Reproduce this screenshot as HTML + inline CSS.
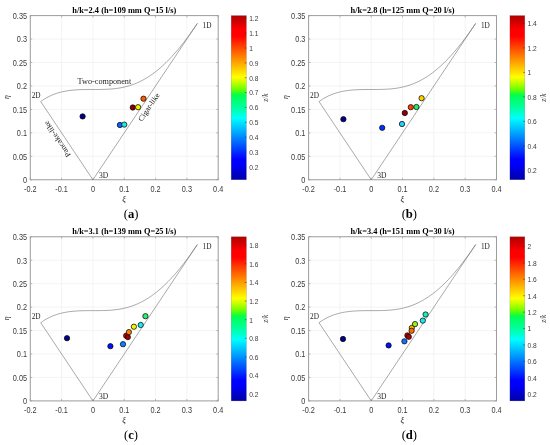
<!DOCTYPE html>
<html lang="en"><head><meta charset="utf-8"><title>Lumley triangle invariant maps</title>
<style>html,body{margin:0;padding:0;background:#fff}svg{display:block}.t{font-family:"Liberation Sans", Arial, sans-serif;fill:#3a3a3a;font-size:8.4px}.s{font-family:"Liberation Serif", "Times New Roman", serif}</style></head><body>
<svg width="550" height="445" viewBox="0 0 550 445">
<defs><linearGradient id="jet" x1="0" y1="1" x2="0" y2="0">
<stop offset="0" stop-color="#0000a8"/>
<stop offset="0.1" stop-color="#0000ff"/>
<stop offset="0.125" stop-color="#0000ff"/>
<stop offset="0.375" stop-color="#00ffff"/>
<stop offset="0.404" stop-color="#00ffd0"/>
<stop offset="0.44" stop-color="#00ffa0"/>
<stop offset="0.486" stop-color="#00ff70"/>
<stop offset="0.515" stop-color="#00ff50"/>
<stop offset="0.53" stop-color="#30ff20"/>
<stop offset="0.56" stop-color="#80ff00"/>
<stop offset="0.595" stop-color="#c8ff00"/>
<stop offset="0.625" stop-color="#ffff00"/>
<stop offset="0.875" stop-color="#ff0000"/>
<stop offset="0.912" stop-color="#ff0000"/>
<stop offset="1" stop-color="#b00000"/>
</linearGradient></defs>
<rect width="550" height="445" fill="#fff"/>
<g id="panel-a" fill="#222">
<path d="M61.62 15.6V179.75M92.93 15.6V179.75M124.25 15.6V179.75M155.57 15.6V179.75M186.88 15.6V179.75M30.3 156.3H218.2M30.3 132.85H218.2M30.3 109.4H218.2M30.3 85.95H218.2M30.3 62.5H218.2M30.3 39.05H218.2" stroke="#efefef" stroke-width="0.7" fill="none"/>
<rect x="30.3" y="15.6" width="187.9" height="164.15" fill="none" stroke="#9c9c9c" stroke-width="1"/>
<path d="M30.3 179.75v-1.9M30.3 15.6v1.9M61.62 179.75v-1.9M61.62 15.6v1.9M92.93 179.75v-1.9M92.93 15.6v1.9M124.25 179.75v-1.9M124.25 15.6v1.9M155.57 179.75v-1.9M155.57 15.6v1.9M186.88 179.75v-1.9M186.88 15.6v1.9M218.2 179.75v-1.9M218.2 15.6v1.9M30.3 179.75h1.9M218.2 179.75h-1.9M30.3 156.3h1.9M218.2 156.3h-1.9M30.3 132.85h1.9M218.2 132.85h-1.9M30.3 109.4h1.9M218.2 109.4h-1.9M30.3 85.95h1.9M218.2 85.95h-1.9M30.3 62.5h1.9M218.2 62.5h-1.9M30.3 39.05h1.9M218.2 39.05h-1.9M30.3 15.6h1.9M218.2 15.6h-1.9" stroke="#9c9c9c" stroke-width="0.7" fill="none"/>
<text class="t" transform="translate(30.3 192.05) scale(0.87 1)" text-anchor="middle">-0.2</text>
<text class="t" transform="translate(61.62 192.05) scale(0.87 1)" text-anchor="middle">-0.1</text>
<text class="t" transform="translate(92.93 192.05) scale(0.87 1)" text-anchor="middle">0</text>
<text class="t" transform="translate(124.25 192.05) scale(0.87 1)" text-anchor="middle">0.1</text>
<text class="t" transform="translate(155.57 192.05) scale(0.87 1)" text-anchor="middle">0.2</text>
<text class="t" transform="translate(186.88 192.05) scale(0.87 1)" text-anchor="middle">0.3</text>
<text class="t" transform="translate(218.2 192.05) scale(0.87 1)" text-anchor="middle">0.4</text>
<text class="t" transform="translate(27 183.05) scale(0.87 1)" text-anchor="end">0</text>
<text class="t" transform="translate(27 159.6) scale(0.87 1)" text-anchor="end">0.05</text>
<text class="t" transform="translate(27 136.15) scale(0.87 1)" text-anchor="end">0.1</text>
<text class="t" transform="translate(27 112.7) scale(0.87 1)" text-anchor="end">0.15</text>
<text class="t" transform="translate(27 89.25) scale(0.87 1)" text-anchor="end">0.2</text>
<text class="t" transform="translate(27 65.8) scale(0.87 1)" text-anchor="end">0.25</text>
<text class="t" transform="translate(27 42.35) scale(0.87 1)" text-anchor="end">0.3</text>
<text class="t" transform="translate(27 18.9) scale(0.87 1)" text-anchor="end">0.35</text>
<path d="M40.74 101.58L92.93 179.75L197.32 23.42M40.74 101.58L42.7 100.18L44.65 98.91L46.61 97.76L48.57 96.71L50.53 95.76L52.48 94.91L54.44 94.14L56.4 93.45L58.35 92.83L60.31 92.29L62.27 91.81L64.23 91.39L66.18 91.02L68.14 90.71L70.1 90.44L72.06 90.22L74.01 90.03L75.97 89.88L77.93 89.76L79.88 89.67L81.84 89.6L83.8 89.55L85.76 89.52L87.71 89.5L89.67 89.49L91.63 89.49L93.59 89.49L95.54 89.49L97.5 89.48L99.46 89.47L101.41 89.44L103.37 89.4L105.33 89.34L107.29 89.26L109.24 89.15L111.2 89.01L113.16 88.84L115.12 88.63L117.07 88.38L119.03 88.09L120.99 87.76L122.95 87.37L124.9 86.93L126.86 86.44L128.82 85.9L130.77 85.29L132.73 84.62L134.69 83.89L136.65 83.09L138.6 82.23L140.56 81.29L142.52 80.29L144.48 79.21L146.43 78.06L148.39 76.84L150.35 75.55L152.3 74.18L154.26 72.74L156.22 71.23L158.18 69.64L160.13 67.98L162.09 66.24L164.05 64.43L166.01 62.55L167.96 60.6L169.92 58.58L171.88 56.49L173.83 54.33L175.79 52.1L177.75 49.8L179.71 47.44L181.66 45.02L183.62 42.53L185.58 39.98L187.54 37.36L189.49 34.69L191.45 31.96L193.41 29.17L195.36 26.32L197.32 23.42" stroke="#6e6e6e" stroke-width="0.6" fill="none" stroke-linejoin="round"/>
<text class="s" font-size="7.7" x="202.6" y="27.9" textLength="8.9" lengthAdjust="spacingAndGlyphs">1D</text>
<text class="s" font-size="7.7" x="31.7" y="98.1" textLength="8.9" lengthAdjust="spacingAndGlyphs">2D</text>
<text class="s" font-size="7.7" x="98.9" y="178" textLength="9.2" lengthAdjust="spacingAndGlyphs">3D</text>
<text class="s" font-size="7.7" x="77.6" y="83.9" textLength="53.6" lengthAdjust="spacingAndGlyphs">Two-component</text>
<text class="s" font-size="7.7" transform="translate(71.0 155.1) rotate(-123.8)" textLength="42" lengthAdjust="spacingAndGlyphs">Pancake-like</text>
<text class="s" font-size="7.7" transform="translate(141.9 122.0) rotate(-56.2)" textLength="32.5" lengthAdjust="spacingAndGlyphs">Cigar-like</text>
<circle cx="82.6" cy="116.4" r="2.65" fill="#00008f" stroke="#0a0a0a" stroke-width="0.75"/>
<circle cx="119.9" cy="125" r="2.65" fill="#0a60ff" stroke="#0a0a0a" stroke-width="0.75"/>
<circle cx="124.3" cy="124.6" r="2.65" fill="#1ee8e0" stroke="#0a0a0a" stroke-width="0.75"/>
<circle cx="132.8" cy="107.5" r="2.65" fill="#8b0000" stroke="#0a0a0a" stroke-width="0.75"/>
<circle cx="138.1" cy="107.2" r="2.65" fill="#f4f400" stroke="#0a0a0a" stroke-width="0.75"/>
<circle cx="143.5" cy="98.7" r="2.65" fill="#ff5a00" stroke="#0a0a0a" stroke-width="0.75"/>
<text class="s" font-size="8" font-weight="bold" fill="#000" x="124.25" y="13" text-anchor="middle" textLength="104" lengthAdjust="spacingAndGlyphs">h/k=2.4 (h=109 mm Q=15 l/s)</text>
<text class="s" font-size="8.2" font-style="italic" x="124.05" y="202.05" text-anchor="middle">ξ</text>
<text class="s" font-size="7.8" font-style="italic" fill="#333" transform="translate(9.4 97.17) rotate(-90)" text-anchor="middle">η</text>
<rect x="231.2" y="15.6" width="15.2" height="164.15" fill="url(#jet)"/>
<rect x="231.2" y="15.6" width="15.2" height="164.15" fill="none" stroke="#444" stroke-opacity="0.35" stroke-width="0.5"/>
<text class="t" style="font-size:7.6px" transform="translate(249.2 169.7) scale(0.87 1)">0.2</text>
<text class="t" style="font-size:7.6px" transform="translate(249.2 154.84) scale(0.87 1)">0.3</text>
<text class="t" style="font-size:7.6px" transform="translate(249.2 139.98) scale(0.87 1)">0.4</text>
<text class="t" style="font-size:7.6px" transform="translate(249.2 125.12) scale(0.87 1)">0.5</text>
<text class="t" style="font-size:7.6px" transform="translate(249.2 110.26) scale(0.87 1)">0.6</text>
<text class="t" style="font-size:7.6px" transform="translate(249.2 95.4) scale(0.87 1)">0.7</text>
<text class="t" style="font-size:7.6px" transform="translate(249.2 80.54) scale(0.87 1)">0.8</text>
<text class="t" style="font-size:7.6px" transform="translate(249.2 65.68) scale(0.87 1)">0.9</text>
<text class="t" style="font-size:7.6px" transform="translate(249.2 50.82) scale(0.87 1)">1</text>
<text class="t" style="font-size:7.6px" transform="translate(249.2 35.96) scale(0.87 1)">1.1</text>
<text class="t" style="font-size:7.6px" transform="translate(249.2 21.1) scale(0.87 1)">1.2</text>
<path d="M246.4 166.9h-1.6M246.4 152.04h-1.6M246.4 137.18h-1.6M246.4 122.32h-1.6M246.4 107.46h-1.6M246.4 92.6h-1.6M246.4 77.74h-1.6M246.4 62.88h-1.6M246.4 48.02h-1.6M246.4 33.16h-1.6M246.4 18.3h-1.6" stroke="#333" stroke-width="0.6" fill="none"/>
<text class="s" font-size="7.3" font-style="italic" fill="#333" transform="translate(267.6 97.67) rotate(-90)" text-anchor="middle">z/k</text>
<text class="s" font-size="12.6" x="131.05" y="217.95" text-anchor="middle" fill="#000">(<tspan font-weight="bold">a</tspan>)</text>
</g>
<g id="panel-b" fill="#222">
<path d="M339.92 15.6V179.75M371.23 15.6V179.75M402.55 15.6V179.75M433.87 15.6V179.75M465.18 15.6V179.75M308.6 156.3H496.5M308.6 132.85H496.5M308.6 109.4H496.5M308.6 85.95H496.5M308.6 62.5H496.5M308.6 39.05H496.5" stroke="#efefef" stroke-width="0.7" fill="none"/>
<rect x="308.6" y="15.6" width="187.9" height="164.15" fill="none" stroke="#9c9c9c" stroke-width="1"/>
<path d="M308.6 179.75v-1.9M308.6 15.6v1.9M339.92 179.75v-1.9M339.92 15.6v1.9M371.23 179.75v-1.9M371.23 15.6v1.9M402.55 179.75v-1.9M402.55 15.6v1.9M433.87 179.75v-1.9M433.87 15.6v1.9M465.18 179.75v-1.9M465.18 15.6v1.9M496.5 179.75v-1.9M496.5 15.6v1.9M308.6 179.75h1.9M496.5 179.75h-1.9M308.6 156.3h1.9M496.5 156.3h-1.9M308.6 132.85h1.9M496.5 132.85h-1.9M308.6 109.4h1.9M496.5 109.4h-1.9M308.6 85.95h1.9M496.5 85.95h-1.9M308.6 62.5h1.9M496.5 62.5h-1.9M308.6 39.05h1.9M496.5 39.05h-1.9M308.6 15.6h1.9M496.5 15.6h-1.9" stroke="#9c9c9c" stroke-width="0.7" fill="none"/>
<text class="t" transform="translate(308.6 192.05) scale(0.87 1)" text-anchor="middle">-0.2</text>
<text class="t" transform="translate(339.92 192.05) scale(0.87 1)" text-anchor="middle">-0.1</text>
<text class="t" transform="translate(371.23 192.05) scale(0.87 1)" text-anchor="middle">0</text>
<text class="t" transform="translate(402.55 192.05) scale(0.87 1)" text-anchor="middle">0.1</text>
<text class="t" transform="translate(433.87 192.05) scale(0.87 1)" text-anchor="middle">0.2</text>
<text class="t" transform="translate(465.18 192.05) scale(0.87 1)" text-anchor="middle">0.3</text>
<text class="t" transform="translate(496.5 192.05) scale(0.87 1)" text-anchor="middle">0.4</text>
<text class="t" transform="translate(305.3 183.05) scale(0.87 1)" text-anchor="end">0</text>
<text class="t" transform="translate(305.3 159.6) scale(0.87 1)" text-anchor="end">0.05</text>
<text class="t" transform="translate(305.3 136.15) scale(0.87 1)" text-anchor="end">0.1</text>
<text class="t" transform="translate(305.3 112.7) scale(0.87 1)" text-anchor="end">0.15</text>
<text class="t" transform="translate(305.3 89.25) scale(0.87 1)" text-anchor="end">0.2</text>
<text class="t" transform="translate(305.3 65.8) scale(0.87 1)" text-anchor="end">0.25</text>
<text class="t" transform="translate(305.3 42.35) scale(0.87 1)" text-anchor="end">0.3</text>
<text class="t" transform="translate(305.3 18.9) scale(0.87 1)" text-anchor="end">0.35</text>
<path d="M319.04 101.58L371.23 179.75L475.62 23.42M319.04 101.58L321 100.18L322.95 98.91L324.91 97.76L326.87 96.71L328.83 95.76L330.78 94.91L332.74 94.14L334.7 93.45L336.65 92.83L338.61 92.29L340.57 91.81L342.53 91.39L344.48 91.02L346.44 90.71L348.4 90.44L350.36 90.22L352.31 90.03L354.27 89.88L356.23 89.76L358.18 89.67L360.14 89.6L362.1 89.55L364.06 89.52L366.01 89.5L367.97 89.49L369.93 89.49L371.89 89.49L373.84 89.49L375.8 89.48L377.76 89.47L379.71 89.44L381.67 89.4L383.63 89.34L385.59 89.26L387.54 89.15L389.5 89.01L391.46 88.84L393.42 88.63L395.37 88.38L397.33 88.09L399.29 87.76L401.25 87.37L403.2 86.93L405.16 86.44L407.12 85.9L409.07 85.29L411.03 84.62L412.99 83.89L414.95 83.09L416.9 82.23L418.86 81.29L420.82 80.29L422.78 79.21L424.73 78.06L426.69 76.84L428.65 75.55L430.6 74.18L432.56 72.74L434.52 71.23L436.48 69.64L438.43 67.98L440.39 66.24L442.35 64.43L444.31 62.55L446.26 60.6L448.22 58.58L450.18 56.49L452.13 54.33L454.09 52.1L456.05 49.8L458.01 47.44L459.96 45.02L461.92 42.53L463.88 39.98L465.84 37.36L467.79 34.69L469.75 31.96L471.71 29.17L473.66 26.32L475.62 23.42" stroke="#6e6e6e" stroke-width="0.6" fill="none" stroke-linejoin="round"/>
<text class="s" font-size="7.7" x="480.9" y="27.9" textLength="8.9" lengthAdjust="spacingAndGlyphs">1D</text>
<text class="s" font-size="7.7" x="310" y="98.1" textLength="8.9" lengthAdjust="spacingAndGlyphs">2D</text>
<text class="s" font-size="7.7" x="377.2" y="178" textLength="9.2" lengthAdjust="spacingAndGlyphs">3D</text>
<circle cx="343.4" cy="119.2" r="2.65" fill="#00008f" stroke="#0a0a0a" stroke-width="0.75"/>
<circle cx="382.2" cy="127.8" r="2.65" fill="#0030ff" stroke="#0a0a0a" stroke-width="0.75"/>
<circle cx="402" cy="124" r="2.65" fill="#20d4f4" stroke="#0a0a0a" stroke-width="0.75"/>
<circle cx="421.6" cy="98.2" r="2.65" fill="#ffd000" stroke="#0a0a0a" stroke-width="0.75"/>
<circle cx="416.4" cy="107" r="2.65" fill="#22ee66" stroke="#0a0a0a" stroke-width="0.75"/>
<circle cx="410.8" cy="107.2" r="2.65" fill="#ff4000" stroke="#0a0a0a" stroke-width="0.75"/>
<circle cx="404.8" cy="113" r="2.65" fill="#8b0000" stroke="#0a0a0a" stroke-width="0.75"/>
<text class="s" font-size="8" font-weight="bold" fill="#000" x="402.55" y="13" text-anchor="middle" textLength="104" lengthAdjust="spacingAndGlyphs">h/k=2.8 (h=125 mm Q=20 l/s)</text>
<text class="s" font-size="8.2" font-style="italic" x="402.35" y="202.05" text-anchor="middle">ξ</text>
<text class="s" font-size="7.8" font-style="italic" fill="#333" transform="translate(287.7 97.17) rotate(-90)" text-anchor="middle">η</text>
<rect x="509.9" y="15.6" width="14.9" height="164.15" fill="url(#jet)"/>
<rect x="509.9" y="15.6" width="14.9" height="164.15" fill="none" stroke="#444" stroke-opacity="0.35" stroke-width="0.5"/>
<text class="t" style="font-size:7.6px" transform="translate(527.6 173.1) scale(0.87 1)">0.2</text>
<text class="t" style="font-size:7.6px" transform="translate(527.6 148.62) scale(0.87 1)">0.4</text>
<text class="t" style="font-size:7.6px" transform="translate(527.6 124.13) scale(0.87 1)">0.6</text>
<text class="t" style="font-size:7.6px" transform="translate(527.6 99.65) scale(0.87 1)">0.8</text>
<text class="t" style="font-size:7.6px" transform="translate(527.6 75.17) scale(0.87 1)">1</text>
<text class="t" style="font-size:7.6px" transform="translate(527.6 50.68) scale(0.87 1)">1.2</text>
<text class="t" style="font-size:7.6px" transform="translate(527.6 26.2) scale(0.87 1)">1.4</text>
<path d="M524.8 170.3h-1.6M524.8 145.82h-1.6M524.8 121.33h-1.6M524.8 96.85h-1.6M524.8 72.37h-1.6M524.8 47.88h-1.6M524.8 23.4h-1.6" stroke="#333" stroke-width="0.6" fill="none"/>
<text class="s" font-size="7.3" font-style="italic" fill="#333" transform="translate(546 97.67) rotate(-90)" text-anchor="middle">z/k</text>
<text class="s" font-size="12.6" x="409.35" y="217.95" text-anchor="middle" fill="#000">(<tspan font-weight="bold">b</tspan>)</text>
</g>
<g id="panel-c" fill="#222">
<path d="M61.62 236.75V400.9M92.93 236.75V400.9M124.25 236.75V400.9M155.57 236.75V400.9M186.88 236.75V400.9M30.3 377.45H218.2M30.3 354H218.2M30.3 330.55H218.2M30.3 307.1H218.2M30.3 283.65H218.2M30.3 260.2H218.2" stroke="#efefef" stroke-width="0.7" fill="none"/>
<rect x="30.3" y="236.75" width="187.9" height="164.15" fill="none" stroke="#9c9c9c" stroke-width="1"/>
<path d="M30.3 400.9v-1.9M30.3 236.75v1.9M61.62 400.9v-1.9M61.62 236.75v1.9M92.93 400.9v-1.9M92.93 236.75v1.9M124.25 400.9v-1.9M124.25 236.75v1.9M155.57 400.9v-1.9M155.57 236.75v1.9M186.88 400.9v-1.9M186.88 236.75v1.9M218.2 400.9v-1.9M218.2 236.75v1.9M30.3 400.9h1.9M218.2 400.9h-1.9M30.3 377.45h1.9M218.2 377.45h-1.9M30.3 354h1.9M218.2 354h-1.9M30.3 330.55h1.9M218.2 330.55h-1.9M30.3 307.1h1.9M218.2 307.1h-1.9M30.3 283.65h1.9M218.2 283.65h-1.9M30.3 260.2h1.9M218.2 260.2h-1.9M30.3 236.75h1.9M218.2 236.75h-1.9" stroke="#9c9c9c" stroke-width="0.7" fill="none"/>
<text class="t" transform="translate(30.3 413.2) scale(0.87 1)" text-anchor="middle">-0.2</text>
<text class="t" transform="translate(61.62 413.2) scale(0.87 1)" text-anchor="middle">-0.1</text>
<text class="t" transform="translate(92.93 413.2) scale(0.87 1)" text-anchor="middle">0</text>
<text class="t" transform="translate(124.25 413.2) scale(0.87 1)" text-anchor="middle">0.1</text>
<text class="t" transform="translate(155.57 413.2) scale(0.87 1)" text-anchor="middle">0.2</text>
<text class="t" transform="translate(186.88 413.2) scale(0.87 1)" text-anchor="middle">0.3</text>
<text class="t" transform="translate(218.2 413.2) scale(0.87 1)" text-anchor="middle">0.4</text>
<text class="t" transform="translate(27 404.2) scale(0.87 1)" text-anchor="end">0</text>
<text class="t" transform="translate(27 380.75) scale(0.87 1)" text-anchor="end">0.05</text>
<text class="t" transform="translate(27 357.3) scale(0.87 1)" text-anchor="end">0.1</text>
<text class="t" transform="translate(27 333.85) scale(0.87 1)" text-anchor="end">0.15</text>
<text class="t" transform="translate(27 310.4) scale(0.87 1)" text-anchor="end">0.2</text>
<text class="t" transform="translate(27 286.95) scale(0.87 1)" text-anchor="end">0.25</text>
<text class="t" transform="translate(27 263.5) scale(0.87 1)" text-anchor="end">0.3</text>
<text class="t" transform="translate(27 240.05) scale(0.87 1)" text-anchor="end">0.35</text>
<path d="M40.74 322.73L92.93 400.9L197.32 244.57M40.74 322.73L42.7 321.33L44.65 320.06L46.61 318.91L48.57 317.86L50.53 316.91L52.48 316.06L54.44 315.29L56.4 314.6L58.35 313.98L60.31 313.44L62.27 312.96L64.23 312.54L66.18 312.17L68.14 311.86L70.1 311.59L72.06 311.37L74.01 311.18L75.97 311.03L77.93 310.91L79.88 310.82L81.84 310.75L83.8 310.7L85.76 310.67L87.71 310.65L89.67 310.64L91.63 310.64L93.59 310.64L95.54 310.64L97.5 310.63L99.46 310.62L101.41 310.59L103.37 310.55L105.33 310.49L107.29 310.41L109.24 310.3L111.2 310.16L113.16 309.99L115.12 309.78L117.07 309.53L119.03 309.24L120.99 308.91L122.95 308.52L124.9 308.08L126.86 307.59L128.82 307.05L130.77 306.44L132.73 305.77L134.69 305.04L136.65 304.24L138.6 303.38L140.56 302.44L142.52 301.44L144.48 300.36L146.43 299.21L148.39 297.99L150.35 296.7L152.3 295.33L154.26 293.89L156.22 292.38L158.18 290.79L160.13 289.13L162.09 287.39L164.05 285.58L166.01 283.7L167.96 281.75L169.92 279.73L171.88 277.64L173.83 275.48L175.79 273.25L177.75 270.95L179.71 268.59L181.66 266.17L183.62 263.68L185.58 261.13L187.54 258.51L189.49 255.84L191.45 253.11L193.41 250.32L195.36 247.47L197.32 244.57" stroke="#6e6e6e" stroke-width="0.6" fill="none" stroke-linejoin="round"/>
<text class="s" font-size="7.7" x="202.6" y="249.05" textLength="8.9" lengthAdjust="spacingAndGlyphs">1D</text>
<text class="s" font-size="7.7" x="31.7" y="319.25" textLength="8.9" lengthAdjust="spacingAndGlyphs">2D</text>
<text class="s" font-size="7.7" x="98.9" y="399.15" textLength="9.2" lengthAdjust="spacingAndGlyphs">3D</text>
<circle cx="67" cy="338.2" r="2.65" fill="#00008f" stroke="#0a0a0a" stroke-width="0.75"/>
<circle cx="110.4" cy="346.2" r="2.65" fill="#0010ff" stroke="#0a0a0a" stroke-width="0.75"/>
<circle cx="123" cy="344.2" r="2.65" fill="#1080ff" stroke="#0a0a0a" stroke-width="0.75"/>
<circle cx="140.7" cy="325" r="2.65" fill="#14eef0" stroke="#0a0a0a" stroke-width="0.75"/>
<circle cx="145.4" cy="316.2" r="2.65" fill="#28f070" stroke="#0a0a0a" stroke-width="0.75"/>
<circle cx="133.9" cy="326.7" r="2.65" fill="#f8f400" stroke="#0a0a0a" stroke-width="0.75"/>
<circle cx="126.2" cy="335.7" r="2.65" fill="#d00000" stroke="#0a0a0a" stroke-width="0.75"/>
<circle cx="127.8" cy="337.1" r="2.65" fill="#a00000" stroke="#0a0a0a" stroke-width="0.75"/>
<circle cx="128.9" cy="332.1" r="2.65" fill="#ff8000" stroke="#0a0a0a" stroke-width="0.75"/>
<text class="s" font-size="8" font-weight="bold" fill="#000" x="124.25" y="234.15" text-anchor="middle" textLength="104" lengthAdjust="spacingAndGlyphs">h/k=3.1 (h=139 mm Q=25 l/s)</text>
<text class="s" font-size="8.2" font-style="italic" x="124.05" y="423.2" text-anchor="middle">ξ</text>
<text class="s" font-size="7.8" font-style="italic" fill="#333" transform="translate(9.4 318.32) rotate(-90)" text-anchor="middle">η</text>
<rect x="231.2" y="236.75" width="15.2" height="164.15" fill="url(#jet)"/>
<rect x="231.2" y="236.75" width="15.2" height="164.15" fill="none" stroke="#444" stroke-opacity="0.35" stroke-width="0.5"/>
<text class="t" style="font-size:7.6px" transform="translate(249.2 397) scale(0.87 1)">0.2</text>
<text class="t" style="font-size:7.6px" transform="translate(249.2 378.38) scale(0.87 1)">0.4</text>
<text class="t" style="font-size:7.6px" transform="translate(249.2 359.75) scale(0.87 1)">0.6</text>
<text class="t" style="font-size:7.6px" transform="translate(249.2 341.12) scale(0.87 1)">0.8</text>
<text class="t" style="font-size:7.6px" transform="translate(249.2 322.5) scale(0.87 1)">1</text>
<text class="t" style="font-size:7.6px" transform="translate(249.2 303.88) scale(0.87 1)">1.2</text>
<text class="t" style="font-size:7.6px" transform="translate(249.2 285.25) scale(0.87 1)">1.4</text>
<text class="t" style="font-size:7.6px" transform="translate(249.2 266.62) scale(0.87 1)">1.6</text>
<text class="t" style="font-size:7.6px" transform="translate(249.2 248) scale(0.87 1)">1.8</text>
<path d="M246.4 394.2h-1.6M246.4 375.57h-1.6M246.4 356.95h-1.6M246.4 338.32h-1.6M246.4 319.7h-1.6M246.4 301.07h-1.6M246.4 282.45h-1.6M246.4 263.82h-1.6M246.4 245.2h-1.6" stroke="#333" stroke-width="0.6" fill="none"/>
<text class="s" font-size="7.3" font-style="italic" fill="#333" transform="translate(267.6 318.82) rotate(-90)" text-anchor="middle">z/k</text>
<text class="s" font-size="12.6" x="131.05" y="439.1" text-anchor="middle" fill="#000">(<tspan font-weight="bold">c</tspan>)</text>
</g>
<g id="panel-d" fill="#222">
<path d="M339.92 236.75V400.9M371.23 236.75V400.9M402.55 236.75V400.9M433.87 236.75V400.9M465.18 236.75V400.9M308.6 377.45H496.5M308.6 354H496.5M308.6 330.55H496.5M308.6 307.1H496.5M308.6 283.65H496.5M308.6 260.2H496.5" stroke="#efefef" stroke-width="0.7" fill="none"/>
<rect x="308.6" y="236.75" width="187.9" height="164.15" fill="none" stroke="#9c9c9c" stroke-width="1"/>
<path d="M308.6 400.9v-1.9M308.6 236.75v1.9M339.92 400.9v-1.9M339.92 236.75v1.9M371.23 400.9v-1.9M371.23 236.75v1.9M402.55 400.9v-1.9M402.55 236.75v1.9M433.87 400.9v-1.9M433.87 236.75v1.9M465.18 400.9v-1.9M465.18 236.75v1.9M496.5 400.9v-1.9M496.5 236.75v1.9M308.6 400.9h1.9M496.5 400.9h-1.9M308.6 377.45h1.9M496.5 377.45h-1.9M308.6 354h1.9M496.5 354h-1.9M308.6 330.55h1.9M496.5 330.55h-1.9M308.6 307.1h1.9M496.5 307.1h-1.9M308.6 283.65h1.9M496.5 283.65h-1.9M308.6 260.2h1.9M496.5 260.2h-1.9M308.6 236.75h1.9M496.5 236.75h-1.9" stroke="#9c9c9c" stroke-width="0.7" fill="none"/>
<text class="t" transform="translate(308.6 413.2) scale(0.87 1)" text-anchor="middle">-0.2</text>
<text class="t" transform="translate(339.92 413.2) scale(0.87 1)" text-anchor="middle">-0.1</text>
<text class="t" transform="translate(371.23 413.2) scale(0.87 1)" text-anchor="middle">0</text>
<text class="t" transform="translate(402.55 413.2) scale(0.87 1)" text-anchor="middle">0.1</text>
<text class="t" transform="translate(433.87 413.2) scale(0.87 1)" text-anchor="middle">0.2</text>
<text class="t" transform="translate(465.18 413.2) scale(0.87 1)" text-anchor="middle">0.3</text>
<text class="t" transform="translate(496.5 413.2) scale(0.87 1)" text-anchor="middle">0.4</text>
<text class="t" transform="translate(305.3 404.2) scale(0.87 1)" text-anchor="end">0</text>
<text class="t" transform="translate(305.3 380.75) scale(0.87 1)" text-anchor="end">0.05</text>
<text class="t" transform="translate(305.3 357.3) scale(0.87 1)" text-anchor="end">0.1</text>
<text class="t" transform="translate(305.3 333.85) scale(0.87 1)" text-anchor="end">0.15</text>
<text class="t" transform="translate(305.3 310.4) scale(0.87 1)" text-anchor="end">0.2</text>
<text class="t" transform="translate(305.3 286.95) scale(0.87 1)" text-anchor="end">0.25</text>
<text class="t" transform="translate(305.3 263.5) scale(0.87 1)" text-anchor="end">0.3</text>
<text class="t" transform="translate(305.3 240.05) scale(0.87 1)" text-anchor="end">0.35</text>
<path d="M319.04 322.73L371.23 400.9L475.62 244.57M319.04 322.73L321 321.33L322.95 320.06L324.91 318.91L326.87 317.86L328.83 316.91L330.78 316.06L332.74 315.29L334.7 314.6L336.65 313.98L338.61 313.44L340.57 312.96L342.53 312.54L344.48 312.17L346.44 311.86L348.4 311.59L350.36 311.37L352.31 311.18L354.27 311.03L356.23 310.91L358.18 310.82L360.14 310.75L362.1 310.7L364.06 310.67L366.01 310.65L367.97 310.64L369.93 310.64L371.89 310.64L373.84 310.64L375.8 310.63L377.76 310.62L379.71 310.59L381.67 310.55L383.63 310.49L385.59 310.41L387.54 310.3L389.5 310.16L391.46 309.99L393.42 309.78L395.37 309.53L397.33 309.24L399.29 308.91L401.25 308.52L403.2 308.08L405.16 307.59L407.12 307.05L409.07 306.44L411.03 305.77L412.99 305.04L414.95 304.24L416.9 303.38L418.86 302.44L420.82 301.44L422.78 300.36L424.73 299.21L426.69 297.99L428.65 296.7L430.6 295.33L432.56 293.89L434.52 292.38L436.48 290.79L438.43 289.13L440.39 287.39L442.35 285.58L444.31 283.7L446.26 281.75L448.22 279.73L450.18 277.64L452.13 275.48L454.09 273.25L456.05 270.95L458.01 268.59L459.96 266.17L461.92 263.68L463.88 261.13L465.84 258.51L467.79 255.84L469.75 253.11L471.71 250.32L473.66 247.47L475.62 244.57" stroke="#6e6e6e" stroke-width="0.6" fill="none" stroke-linejoin="round"/>
<text class="s" font-size="7.7" x="480.9" y="249.05" textLength="8.9" lengthAdjust="spacingAndGlyphs">1D</text>
<text class="s" font-size="7.7" x="310" y="319.25" textLength="8.9" lengthAdjust="spacingAndGlyphs">2D</text>
<text class="s" font-size="7.7" x="377.2" y="399.15" textLength="9.2" lengthAdjust="spacingAndGlyphs">3D</text>
<circle cx="343" cy="339" r="2.65" fill="#00008f" stroke="#0a0a0a" stroke-width="0.75"/>
<circle cx="388.6" cy="345.4" r="2.65" fill="#0010ff" stroke="#0a0a0a" stroke-width="0.75"/>
<circle cx="404.4" cy="341.3" r="2.65" fill="#1070ff" stroke="#0a0a0a" stroke-width="0.75"/>
<circle cx="422.8" cy="320.6" r="2.65" fill="#18e8f4" stroke="#0a0a0a" stroke-width="0.75"/>
<circle cx="425.6" cy="314.5" r="2.65" fill="#20eeb0" stroke="#0a0a0a" stroke-width="0.75"/>
<circle cx="411.8" cy="327.9" r="2.65" fill="#ffb800" stroke="#0a0a0a" stroke-width="0.75"/>
<circle cx="415" cy="324.1" r="2.65" fill="#98f018" stroke="#0a0a0a" stroke-width="0.75"/>
<circle cx="411.6" cy="330.8" r="2.65" fill="#ff6a00" stroke="#0a0a0a" stroke-width="0.75"/>
<circle cx="407.4" cy="335.4" r="2.65" fill="#c40000" stroke="#0a0a0a" stroke-width="0.75"/>
<circle cx="408.8" cy="336.8" r="2.65" fill="#a80000" stroke="#0a0a0a" stroke-width="0.75"/>
<text class="s" font-size="8" font-weight="bold" fill="#000" x="402.55" y="234.15" text-anchor="middle" textLength="104" lengthAdjust="spacingAndGlyphs">h/k=3.4 (h=151 mm Q=30 l/s)</text>
<text class="s" font-size="8.2" font-style="italic" x="402.35" y="423.2" text-anchor="middle">ξ</text>
<text class="s" font-size="7.8" font-style="italic" fill="#333" transform="translate(287.7 318.32) rotate(-90)" text-anchor="middle">η</text>
<rect x="509.9" y="236.75" width="14.9" height="164.15" fill="url(#jet)"/>
<rect x="509.9" y="236.75" width="14.9" height="164.15" fill="none" stroke="#444" stroke-opacity="0.35" stroke-width="0.5"/>
<text class="t" style="font-size:7.6px" transform="translate(527.6 397) scale(0.87 1)">0.2</text>
<text class="t" style="font-size:7.6px" transform="translate(527.6 380.59) scale(0.87 1)">0.4</text>
<text class="t" style="font-size:7.6px" transform="translate(527.6 364.18) scale(0.87 1)">0.6</text>
<text class="t" style="font-size:7.6px" transform="translate(527.6 347.77) scale(0.87 1)">0.8</text>
<text class="t" style="font-size:7.6px" transform="translate(527.6 331.36) scale(0.87 1)">1</text>
<text class="t" style="font-size:7.6px" transform="translate(527.6 314.94) scale(0.87 1)">1.2</text>
<text class="t" style="font-size:7.6px" transform="translate(527.6 298.53) scale(0.87 1)">1.4</text>
<text class="t" style="font-size:7.6px" transform="translate(527.6 282.12) scale(0.87 1)">1.6</text>
<text class="t" style="font-size:7.6px" transform="translate(527.6 265.71) scale(0.87 1)">1.8</text>
<text class="t" style="font-size:7.6px" transform="translate(527.6 249.3) scale(0.87 1)">2</text>
<path d="M524.8 394.2h-1.6M524.8 377.79h-1.6M524.8 361.38h-1.6M524.8 344.97h-1.6M524.8 328.56h-1.6M524.8 312.14h-1.6M524.8 295.73h-1.6M524.8 279.32h-1.6M524.8 262.91h-1.6M524.8 246.5h-1.6" stroke="#333" stroke-width="0.6" fill="none"/>
<text class="s" font-size="7.3" font-style="italic" fill="#333" transform="translate(546 318.82) rotate(-90)" text-anchor="middle">z/k</text>
<text class="s" font-size="12.6" x="409.35" y="439.1" text-anchor="middle" fill="#000">(<tspan font-weight="bold">d</tspan>)</text>
</g>
</svg></body></html>
